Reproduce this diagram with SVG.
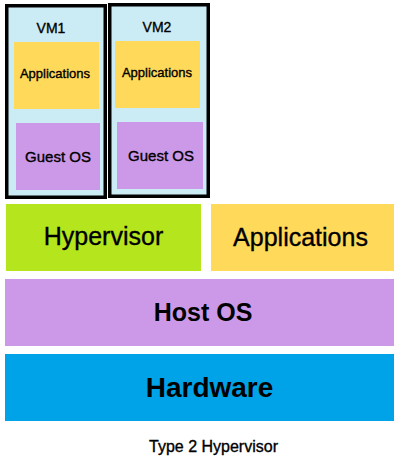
<svg xmlns="http://www.w3.org/2000/svg" width="403" height="459" viewBox="0 0 403 459">
<style>
text{font-family:"Liberation Sans",Arial,sans-serif;fill:#000;text-anchor:middle;stroke:#000;stroke-width:0.35}
.vm{fill:#CCECF5;stroke:#000;stroke-width:3.5}
.app{fill:#FFD95A}
.os{fill:#CC99E8}
.green{fill:#B5E61D}
.hw{fill:#00A3E8}
text.b{font-weight:bold;stroke:none}
</style>
<rect width="403" height="459" fill="#fff"/>
<g id="vm1">
<rect class="vm" x="6.75" y="5.75" width="98.5" height="191.5"/>
<text x="51" y="33" font-size="14">VM1</text>
<g id="vm1-apps"><rect class="app" x="14" y="42" width="85" height="67"/><text x="55" y="78" font-size="13">Applications</text></g>
<g id="vm1-guest"><rect class="os" x="16" y="123" width="84" height="67"/><text x="58" y="162" font-size="15">Guest OS</text></g>
</g>
<g id="vm2">
<rect class="vm" x="109.75" y="4.75" width="98.5" height="191.5"/>
<text x="157" y="32" font-size="14">VM2</text>
<g id="vm2-apps"><rect class="app" x="115" y="41" width="85" height="67"/><text x="157" y="77" font-size="13">Applications</text></g>
<g id="vm2-guest"><rect class="os" x="117" y="122" width="86" height="67"/><text x="161" y="161" font-size="15">Guest OS</text></g>
</g>
<g id="hypervisor"><rect class="green" x="6" y="204" width="195" height="67"/><text x="103.5" y="245" font-size="25">Hypervisor</text></g>
<g id="applications"><rect class="app" x="211" y="204" width="183" height="67"/><text x="300.5" y="246" font-size="25">Applications</text></g>
<g id="hostos"><rect class="os" x="5" y="279" width="389" height="67"/><text x="203" y="321" font-size="25" class="b">Host OS</text></g>
<g id="hardware"><rect class="hw" x="5" y="354" width="389" height="67"/><text x="209.5" y="397" font-size="28" class="b">Hardware</text></g>
<g id="connectors"/>
<text x="213.5" y="452" font-size="16">Type 2 Hypervisor</text>
</svg>
